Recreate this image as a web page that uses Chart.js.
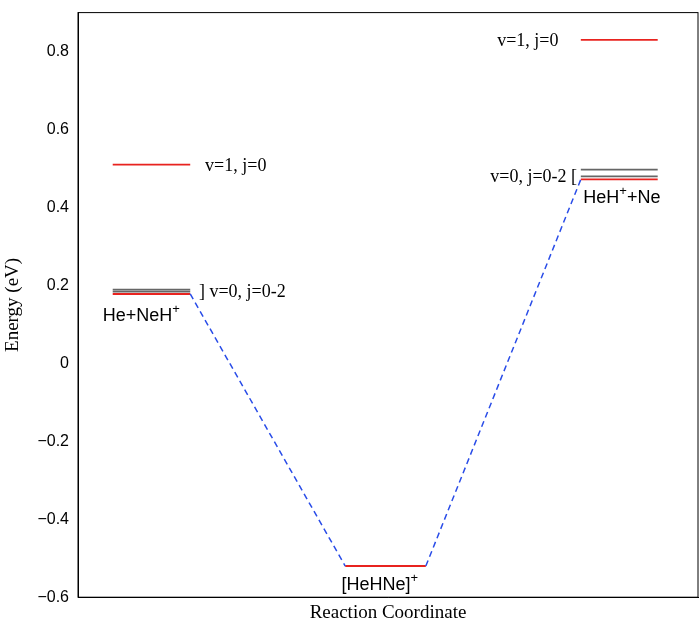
<!DOCTYPE html>
<html><head><meta charset="utf-8">
<script src="https://cdn.jsdelivr.net/npm/chart.js@4.4.1/dist/chart.umd.min.js"></script>
<style>body{margin:0;background:#fff}#wrap{width:700px;height:624px}</style>
</head><body><div id="wrap"><canvas id="c"></canvas></div>
<script>
// level positions along the reaction coordinate (0..100)
const leftSpan = [5.6, 18.1];
const midSpan = [43.1, 56.1];
const rightSpan = [81.1, 93.5];
// energies (eV)
const leftGround = 0.178;
const leftRot = [0.184, 0.189];
const leftV1 = 0.51;
const midLevel = -0.52;
const rightGround = 0.472;
const rightRot = [0.480, 0.497];
const rightV1 = 0.83;
const yTicks = [-0.6, -0.4, -0.2, 0, 0.2, 0.4, 0.6, 0.8];

const seg = (span, y, color, w) => ({
  data: [{x: span[0], y}, {x: span[1], y}], borderColor: color, borderWidth: w || 1.8,
  pointRadius: 0, showLine: true, fill: false
});
const dash = (a, b) => ({
  data: [a, b], borderColor: "#2a4de8", borderWidth: 1.5, borderDash: [6, 4],
  pointRadius: 0, showLine: true, fill: false
});

const datasets = [
  dash({x: leftSpan[1], y: leftGround}, {x: midSpan[0], y: midLevel}),
  dash({x: midSpan[1], y: midLevel}, {x: rightSpan[0], y: rightGround}),
  ...leftRot.map(v => seg(leftSpan, v, "#666")),
  seg(leftSpan, leftGround, "#e8231f"),
  seg(leftSpan, leftV1, "#e8231f"),
  seg(midSpan, midLevel, "#e8231f"),
  ...rightRot.map(v => seg(rightSpan, v, "#666")),
  seg(rightSpan, rightGround, "#e8231f"),
  seg(rightSpan, rightV1, "#e8231f"),
];

const SERIF = "18px 'Liberation Serif', 'DejaVu Serif', serif";
const SANS = "18px 'Liberation Sans', Arial, sans-serif";
function supText(ctx, x, y, base, sup, tail) {
  ctx.font = SANS; ctx.fillText(base, x, y); x += ctx.measureText(base).width;
  ctx.font = "13px 'Liberation Sans', Arial, sans-serif"; ctx.fillText(sup, x, y - 8); x += ctx.measureText(sup).width;
  ctx.font = SANS; ctx.fillText(tail, x, y);
}
const labels = {
  id: "labels",
  afterDatasetsDraw(chart) {
    const {ctx, scales: {x, y}} = chart;
    ctx.save(); ctx.fillStyle = "#000"; ctx.textBaseline = "alphabetic";
    ctx.font = SERIF; ctx.textAlign = "left";
    ctx.fillText("v=1, j=0", x.getPixelForValue(20.5), y.getPixelForValue(leftV1) + 6);
    ctx.fillText("] v=0, j=0-2", x.getPixelForValue(19.5), y.getPixelForValue(leftGround) + 3);
    ctx.textAlign = "right";
    ctx.fillText("v=1, j=0", x.getPixelForValue(77.5), y.getPixelForValue(rightV1) + 6);
    ctx.fillText("v=0, j=0-2 [", x.getPixelForValue(80.5), y.getPixelForValue(rightGround) + 3);
    ctx.textAlign = "left";
    supText(ctx, x.getPixelForValue(4), y.getPixelForValue(leftGround) + 27, "He+NeH", "+", "");
    supText(ctx, x.getPixelForValue(81.5), y.getPixelForValue(rightGround) + 24, "HeH", "+", "+Ne");
    supText(ctx, x.getPixelForValue(42.5), y.getPixelForValue(midLevel) + 24, "[HeHNe]", "+", "");
    ctx.restore();
  }
};

new Chart(document.getElementById("c").getContext("2d"), {
  type: "scatter",
  data: {datasets},
  options: {
    responsive: true, maintainAspectRatio: false, animation: false,
    layout: {padding: {top: -8, right: 2}},
    plugins: {legend: {display: false}, tooltip: {enabled: false}},
    scales: {
      x: {type: "linear", min: 0, max: 100,
        grid: {display: false, drawTicks: false}, border: {color: "#000", width: 1},
        ticks: {display: false},
        title: {display: true, text: "Reaction Coordinate", color: "#000", padding: {top: 4, bottom: 0},
          font: {family: "'Liberation Serif', serif", size: 19}}},
      y: {type: "linear", min: -0.6, max: 0.9,
        afterBuildTicks: s => { s.ticks = yTicks.map(v => ({value: v})); },
        afterFit: s => { s.width = 78; },
        grid: {display: false, drawTicks: true, tickLength: 6, tickColor: "#000"}, border: {color: "#000", width: 1},
        ticks: {color: "#000", font: {family: "'Liberation Sans', Arial, sans-serif", size: 16},
          callback: v => v === 0 ? "0" : v.toFixed(1).replace("-", "\u2212")},
        title: {display: true, text: "Energy (eV)", color: "#000", padding: 2,
          font: {family: "'Liberation Serif', serif", size: 19}}}
    }
  },
  plugins: [labels, {
    id: "frame",
    afterDraw(chart) {
      const {ctx, chartArea: a} = chart;
      ctx.save(); ctx.strokeStyle = "#000"; ctx.lineWidth = 1;
      ctx.strokeRect(a.left, a.top, a.right - a.left, a.bottom - a.top);
      ctx.restore();
    }
  }]
});
</script></body></html>
